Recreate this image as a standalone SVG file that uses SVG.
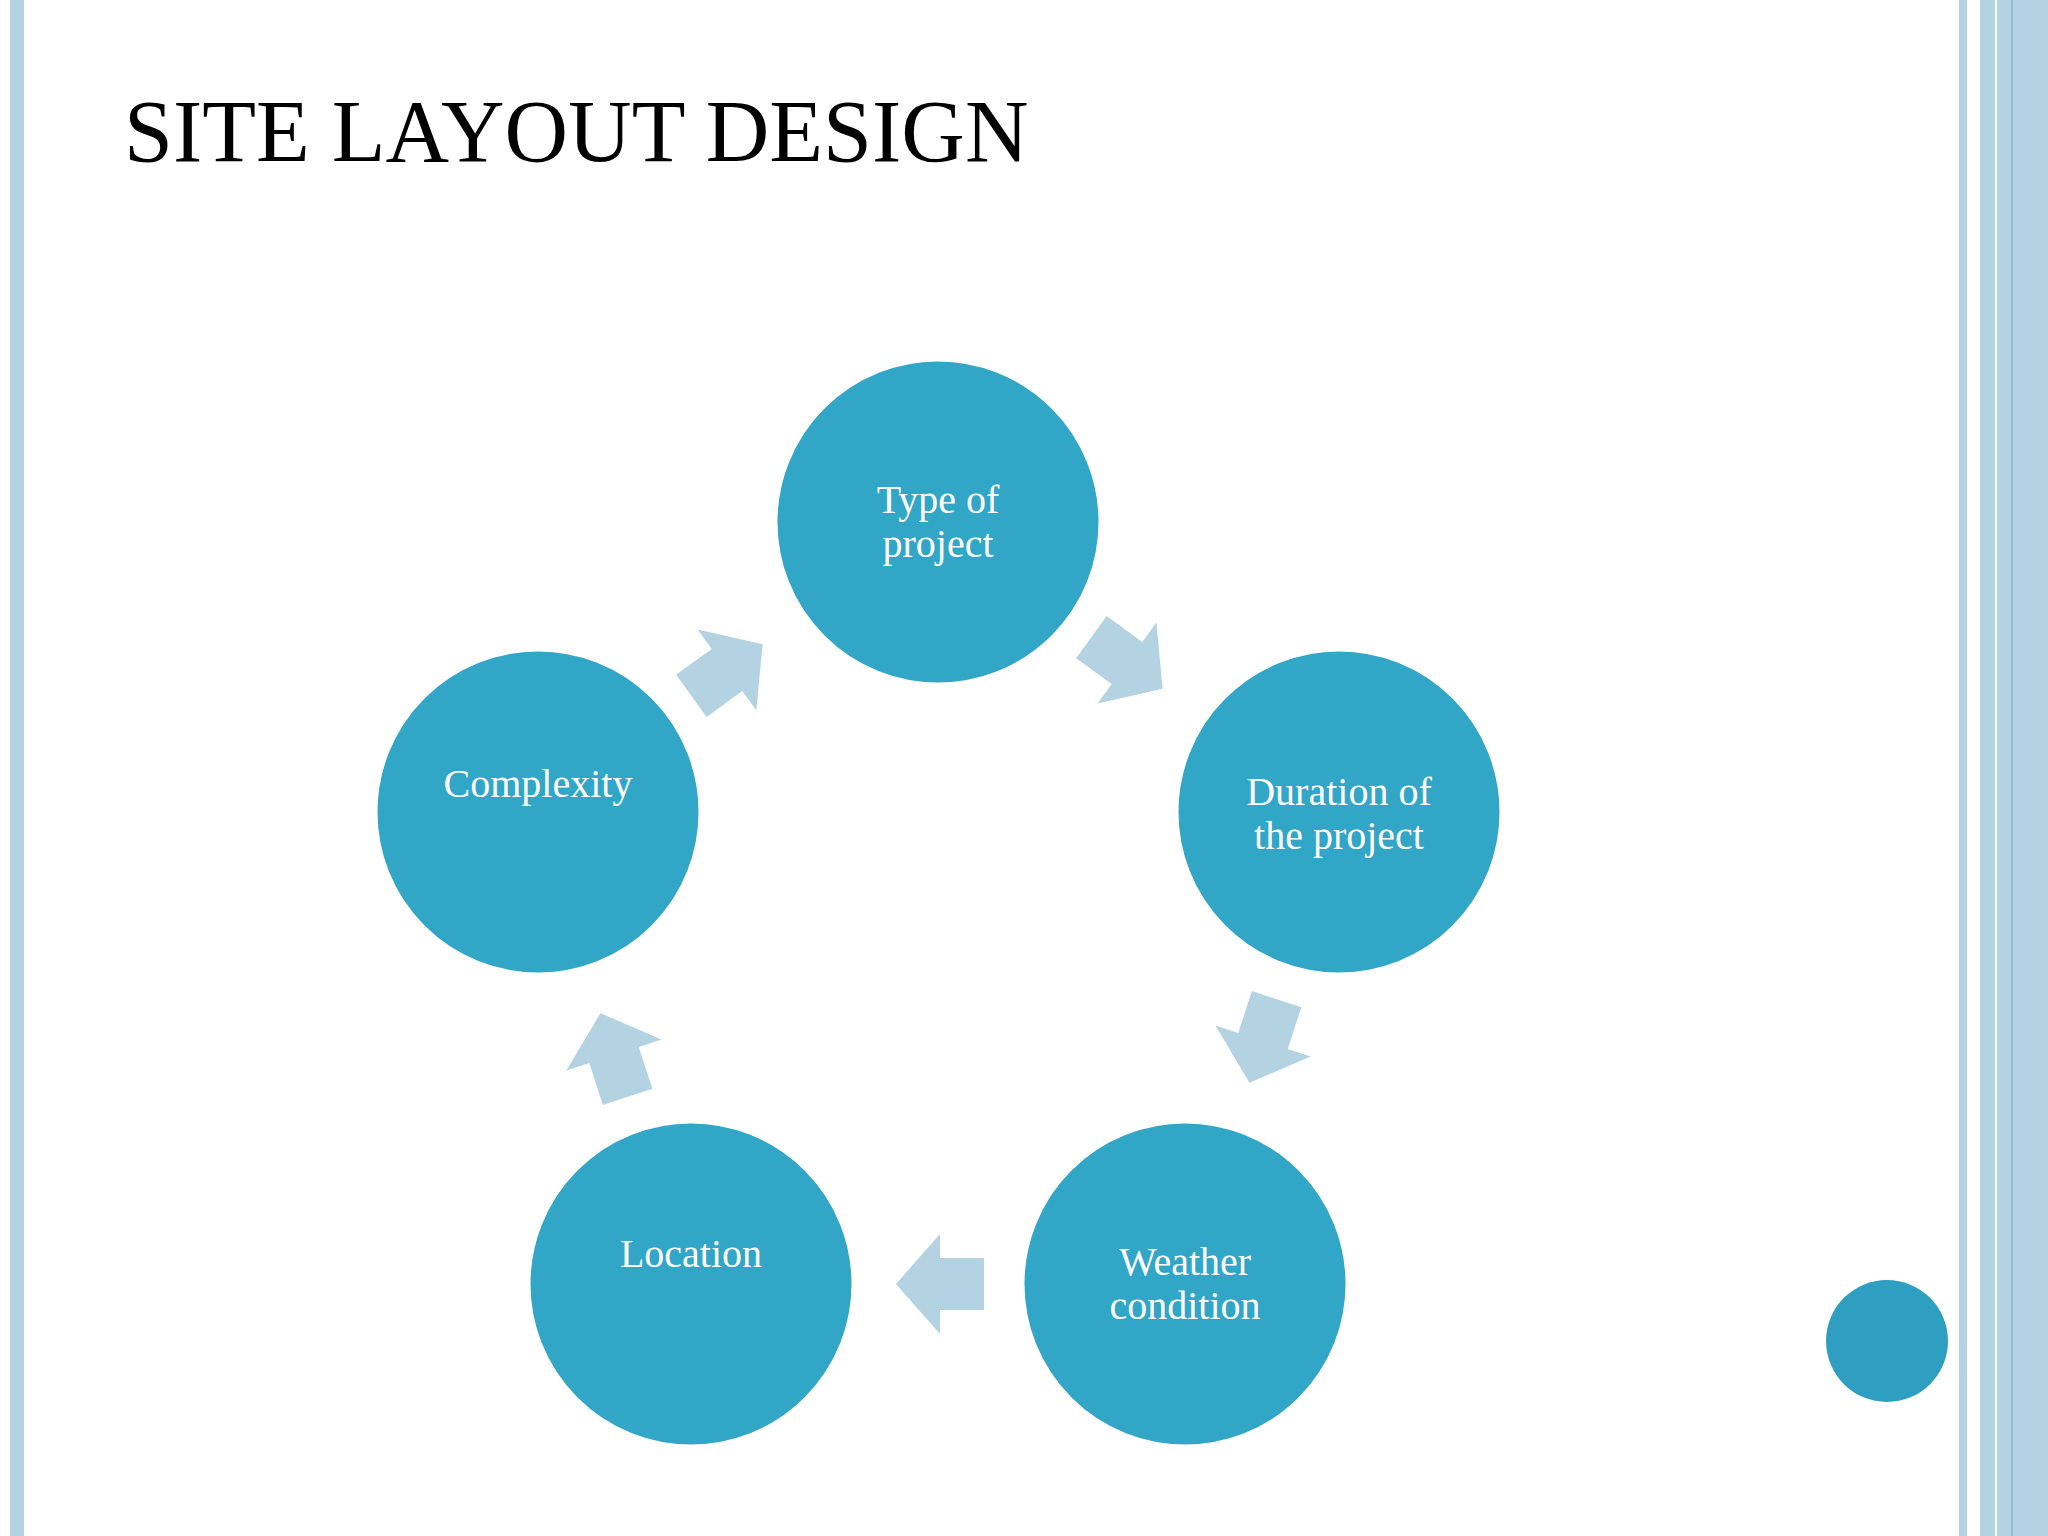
<svg xmlns="http://www.w3.org/2000/svg" width="2048" height="1536" viewBox="0 0 2048 1536">
<style>
.n{fill:#31A6C6;stroke:#fff;stroke-width:5}
.t{font-family:"Liberation Serif",serif;font-size:40px;fill:#fff;text-anchor:middle}
.a{fill:#B4D3E2}
</style>
<defs><path id="arr" d="M-44,-26 H0 V-50 L44,0 L0,50 V26 H-44 Z"/></defs>
<rect width="2048" height="1536" fill="#fff"/>
<rect x="10" y="0" width="14" height="1536" fill="#B4D3E2"/>
<rect x="1959" y="0" width="8" height="1536" fill="#B4D3E2"/>
<rect x="1980" y="0" width="68" height="1536" fill="#B4D3E2"/>
<line x1="1996" y1="0" x2="1996" y2="1536" stroke="#fff" stroke-width="2"/>
<line x1="2012" y1="0" x2="2012" y2="1536" stroke="#8FBFD4" stroke-width="2"/>
<text x="124" y="161" font-family="Liberation Serif,serif" font-size="88" fill="#000">SITE LAYOUT DESIGN</text>
<g id="connectors">
<use href="#arr" class="a" transform="translate(1127,663) rotate(36)"/>
<use href="#arr" class="a" transform="translate(1263,1041) rotate(108)"/>
<use href="#arr" class="a" transform="translate(940,1284) rotate(180)"/>
<use href="#arr" class="a" transform="translate(614,1055) rotate(252)"/>
<use href="#arr" class="a" transform="translate(727,670) rotate(324)"/>
</g>
<g id="type"><circle class="n" cx="938" cy="522" r="163"/><text class="t" x="938" y="513">Type of</text><text class="t" x="938" y="557">project</text></g>
<g id="duration"><circle class="n" cx="1339" cy="812" r="163"/><text class="t" x="1339" y="805">Duration of</text><text class="t" x="1339" y="849">the project</text></g>
<g id="weather"><circle class="n" cx="1185" cy="1284" r="163"/><text class="t" x="1185" y="1275">Weather</text><text class="t" x="1185" y="1319">condition</text></g>
<g id="location"><circle class="n" cx="691" cy="1284" r="163"/><text class="t" x="691" y="1267">Location</text></g>
<g id="complexity"><circle class="n" cx="538" cy="812" r="163"/><text class="t" x="538" y="797">Complexity</text></g>
<circle cx="1887" cy="1341" r="61" fill="#2E9FC0"/>
</svg>
